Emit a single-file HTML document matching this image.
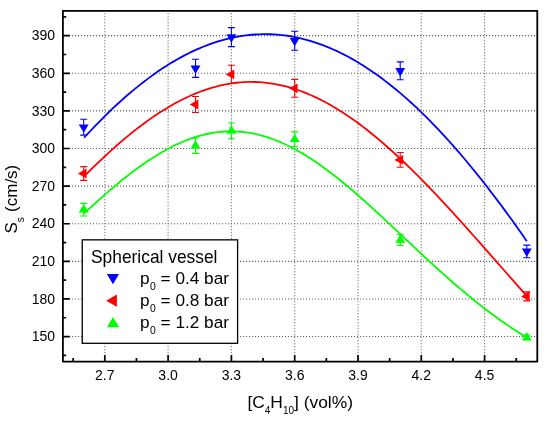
<!DOCTYPE html>
<html><head><meta charset="utf-8"><style>
html,body{margin:0;padding:0;background:#fff;}
body{width:550px;height:421px;overflow:hidden;}
svg{display:block;}
text{font-family:"Liberation Sans",Arial,sans-serif;fill:#000;}
</style></head><body>
<svg width="550" height="421" viewBox="0 0 550 421">
<rect width="550" height="421" fill="#fff"/>

<path d="M104.80,12 V360 M168.10,12 V360 M231.40,12 V360 M294.70,12 V360 M358.00,12 V360 M421.30,12 V360 M484.60,12 V360" stroke="#606060" stroke-width="1.1" stroke-dasharray="1.1 1.9" stroke-dashoffset="1.75" fill="none"/>
<path d="M64,336.56 H536 M64,298.95 H536 M64,261.34 H536 M64,223.73 H536 M64,186.12 H536 M64,148.51 H536 M64,110.90 H536 M64,73.28 H536 M64,35.67 H536" stroke="#606060" stroke-width="1.1" stroke-dasharray="1.1 1.9" stroke-dashoffset="1.0" fill="none"/>
<path d="M84.07,137.76 L87.79,133.72 L91.51,129.75 L95.23,125.85 L98.95,122.01 L102.67,118.26 L106.39,114.57 L110.11,110.96 L113.83,107.43 L117.55,103.97 L121.27,100.58 L124.99,97.28 L128.72,94.05 L132.44,90.90 L136.16,87.83 L139.88,84.84 L143.60,81.93 L147.32,79.10 L151.04,76.35 L154.76,73.68 L158.48,71.10 L162.20,68.60 L165.92,66.19 L169.64,63.86 L173.36,61.61 L177.08,59.45 L180.80,57.37 L184.52,55.39 L188.24,53.49 L191.96,51.67 L195.68,49.94 L199.40,48.31 L203.12,46.75 L206.84,45.29 L210.56,43.92 L214.28,42.64 L218.01,41.44 L221.73,40.34 L225.45,39.33 L229.17,38.40 L232.89,37.57 L236.61,36.83 L240.33,36.17 L244.05,35.61 L247.77,35.14 L251.49,34.77 L255.21,34.48 L258.93,34.28 L262.65,34.18 L266.37,34.17 L270.09,34.25 L273.81,34.42 L277.53,34.68 L281.25,35.03 L284.97,35.47 L288.69,36.01 L292.41,36.64 L296.13,37.35 L299.85,38.16 L303.57,39.06 L307.30,40.05 L311.02,41.13 L314.74,42.30 L318.46,43.56 L322.18,44.90 L325.90,46.34 L329.62,47.87 L333.34,49.48 L337.06,51.18 L340.78,52.97 L344.50,54.85 L348.22,56.81 L351.94,58.87 L355.66,61.00 L359.38,63.22 L363.10,65.53 L366.82,67.92 L370.54,70.40 L374.26,72.96 L377.98,75.60 L381.70,78.33 L385.42,81.13 L389.14,84.02 L392.86,86.99 L396.59,90.04 L400.31,93.17 L404.03,96.38 L407.75,99.66 L411.47,103.02 L415.19,106.46 L418.91,109.97 L422.63,113.56 L426.35,117.23 L430.07,120.97 L433.79,124.78 L437.51,128.66 L441.23,132.61 L444.95,136.63 L448.67,140.73 L452.39,144.89 L456.11,149.12 L459.83,153.42 L463.55,157.78 L467.27,162.21 L470.99,166.70 L474.71,171.25 L478.43,175.87 L482.15,180.55 L485.88,185.29 L489.60,190.09 L493.32,194.95 L497.04,199.86 L500.76,204.83 L504.48,209.86 L508.20,214.94 L511.92,220.08 L515.64,225.27 L519.36,230.51 L523.08,235.80 L526.80,241.14" stroke="#0000ff" stroke-width="1.8" fill="none"/>
<path d="M84.07,176.39 L87.79,172.67 L91.51,169.00 L95.23,165.37 L98.95,161.80 L102.67,158.28 L106.39,154.82 L110.11,151.41 L113.83,148.07 L117.55,144.79 L121.27,141.57 L124.99,138.42 L128.72,135.33 L132.44,132.32 L136.16,129.38 L139.88,126.51 L143.60,123.72 L147.32,121.00 L151.04,118.36 L154.76,115.81 L158.48,113.34 L162.20,110.95 L165.92,108.64 L169.64,106.42 L173.36,104.29 L177.08,102.25 L180.80,100.31 L184.52,98.45 L188.24,96.69 L191.96,95.02 L195.68,93.45 L199.40,91.97 L203.12,90.60 L206.84,89.32 L210.56,88.14 L214.28,87.06 L218.01,86.08 L221.73,85.21 L225.45,84.44 L229.17,83.77 L232.89,83.20 L236.61,82.74 L240.33,82.38 L244.05,82.12 L247.77,81.97 L251.49,81.93 L255.21,81.99 L258.93,82.15 L262.65,82.42 L266.37,82.79 L270.09,83.27 L273.81,83.85 L277.53,84.53 L281.25,85.32 L284.97,86.20 L288.69,87.19 L292.41,88.29 L296.13,89.48 L299.85,90.77 L303.57,92.16 L307.30,93.65 L311.02,95.23 L314.74,96.91 L318.46,98.68 L322.18,100.55 L325.90,102.51 L329.62,104.56 L333.34,106.70 L337.06,108.93 L340.78,111.25 L344.50,113.65 L348.22,116.13 L351.94,118.70 L355.66,121.35 L359.38,124.07 L363.10,126.88 L366.82,129.75 L370.54,132.71 L374.26,135.73 L377.98,138.82 L381.70,141.98 L385.42,145.21 L389.14,148.50 L392.86,151.85 L396.59,155.26 L400.31,158.73 L404.03,162.26 L407.75,165.84 L411.47,169.47 L415.19,173.15 L418.91,176.88 L422.63,180.65 L426.35,184.47 L430.07,188.32 L433.79,192.22 L437.51,196.15 L441.23,200.12 L444.95,204.12 L448.67,208.14 L452.39,212.20 L456.11,216.28 L459.83,220.39 L463.55,224.52 L467.27,228.66 L470.99,232.83 L474.71,237.01 L478.43,241.20 L482.15,245.40 L485.88,249.61 L489.60,253.83 L493.32,258.06 L497.04,262.28 L500.76,266.51 L504.48,270.74 L508.20,274.97 L511.92,279.19 L515.64,283.40 L519.36,287.61 L523.08,291.80 L526.80,295.99" stroke="#ff0000" stroke-width="1.8" fill="none"/>
<path d="M84.07,213.38 L87.79,209.96 L91.51,206.57 L95.23,203.20 L98.95,199.87 L102.67,196.58 L106.39,193.33 L110.11,190.12 L113.83,186.96 L117.55,183.86 L121.27,180.81 L124.99,177.82 L128.72,174.90 L132.44,172.04 L136.16,169.26 L139.88,166.55 L143.60,163.91 L147.32,161.36 L151.04,158.90 L154.76,156.52 L158.48,154.23 L162.20,152.04 L165.92,149.94 L169.64,147.94 L173.36,146.05 L177.08,144.26 L180.80,142.58 L184.52,141.01 L188.24,139.55 L191.96,138.21 L195.68,136.98 L199.40,135.87 L203.12,134.88 L206.84,134.00 L210.56,133.25 L214.28,132.63 L218.01,132.12 L221.73,131.75 L225.45,131.49 L229.17,131.37 L232.89,131.36 L236.61,131.49 L240.33,131.73 L244.05,132.11 L247.77,132.61 L251.49,133.23 L255.21,133.97 L258.93,134.84 L262.65,135.83 L266.37,136.93 L270.09,138.16 L273.81,139.50 L277.53,140.95 L281.25,142.52 L284.97,144.20 L288.69,145.98 L292.41,147.87 L296.13,149.86 L299.85,151.95 L303.57,154.14 L307.30,156.43 L311.02,158.80 L314.74,161.27 L318.46,163.81 L322.18,166.44 L325.90,169.15 L329.62,171.93 L333.34,174.79 L337.06,177.71 L340.78,180.69 L344.50,183.74 L348.22,186.84 L351.94,190.00 L355.66,193.20 L359.38,196.45 L363.10,199.74 L366.82,203.07 L370.54,206.44 L374.26,209.83 L377.98,213.25 L381.70,216.70 L385.42,220.16 L389.14,223.64 L392.86,227.13 L396.59,230.63 L400.31,234.13 L404.03,237.64 L407.75,241.15 L411.47,244.65 L415.19,248.14 L418.91,251.62 L422.63,255.09 L426.35,258.54 L430.07,261.97 L433.79,265.38 L437.51,268.77 L441.23,272.12 L444.95,275.45 L448.67,278.74 L452.39,282.01 L456.11,285.23 L459.83,288.41 L463.55,291.56 L467.27,294.66 L470.99,297.72 L474.71,300.74 L478.43,303.70 L482.15,306.62 L485.88,309.49 L489.60,312.31 L493.32,315.08 L497.04,317.80 L500.76,320.46 L504.48,323.07 L508.20,325.62 L511.92,328.13 L515.64,330.57 L519.36,332.96 L523.08,335.29 L526.80,337.57" stroke="#00ff00" stroke-width="1.8" fill="none"/>
<path d="M83.70,119.30 V135.10 M80.20,119.30 H87.20 M80.20,135.10 H87.20" stroke="#0000ff" stroke-width="1.1" fill="none"/>
<polygon points="78.75,124.40 88.65,124.40 83.70,132.80" fill="#0000ff"/>
<path d="M195.53,59.30 V77.40 M192.03,59.30 H199.03 M192.03,77.40 H199.03" stroke="#0000ff" stroke-width="1.1" fill="none"/>
<polygon points="190.58,65.55 200.48,65.55 195.53,73.95" fill="#0000ff"/>
<path d="M231.40,27.60 V46.60 M227.90,27.60 H234.90 M227.90,46.60 H234.90" stroke="#0000ff" stroke-width="1.1" fill="none"/>
<polygon points="226.45,34.30 236.35,34.30 231.40,42.70" fill="#0000ff"/>
<path d="M294.70,31.20 V50.20 M291.20,31.20 H298.20 M291.20,50.20 H298.20" stroke="#0000ff" stroke-width="1.1" fill="none"/>
<polygon points="289.75,37.90 299.65,37.90 294.70,46.30" fill="#0000ff"/>
<path d="M400.20,61.90 V79.70 M396.70,61.90 H403.70 M396.70,79.70 H403.70" stroke="#0000ff" stroke-width="1.1" fill="none"/>
<polygon points="395.25,68.00 405.15,68.00 400.20,76.40" fill="#0000ff"/>
<path d="M526.80,245.10 V257.70 M523.30,245.10 H530.30 M523.30,257.70 H530.30" stroke="#0000ff" stroke-width="1.1" fill="none"/>
<polygon points="521.85,248.60 531.75,248.60 526.80,257.00" fill="#0000ff"/>
<path d="M83.70,166.60 V180.40 M80.20,166.60 H87.20 M80.20,180.40 H87.20" stroke="#ff0000" stroke-width="1.1" fill="none"/>
<polygon points="77.97,173.50 86.57,168.60 86.57,178.40" fill="#ff0000"/>
<path d="M195.53,96.50 V112.50 M192.03,96.50 H199.03 M192.03,112.50 H199.03" stroke="#ff0000" stroke-width="1.1" fill="none"/>
<polygon points="189.80,104.50 198.40,99.60 198.40,109.40" fill="#ff0000"/>
<path d="M231.40,65.30 V83.50 M227.90,65.30 H234.90 M227.90,83.50 H234.90" stroke="#ff0000" stroke-width="1.1" fill="none"/>
<polygon points="225.67,74.40 234.27,69.50 234.27,79.30" fill="#ff0000"/>
<path d="M294.70,79.40 V97.20 M291.20,79.40 H298.20 M291.20,97.20 H298.20" stroke="#ff0000" stroke-width="1.1" fill="none"/>
<polygon points="288.97,88.30 297.57,83.40 297.57,93.20" fill="#ff0000"/>
<path d="M400.20,152.50 V167.30 M396.70,152.50 H403.70 M396.70,167.30 H403.70" stroke="#ff0000" stroke-width="1.1" fill="none"/>
<polygon points="394.47,159.90 403.07,155.00 403.07,164.80" fill="#ff0000"/>
<path d="M526.80,291.90 V300.90 M523.30,291.90 H530.30 M523.30,300.90 H530.30" stroke="#ff0000" stroke-width="1.1" fill="none"/>
<polygon points="521.07,296.40 529.67,291.50 529.67,301.30" fill="#ff0000"/>
<path d="M83.70,203.40 V216.00 M80.20,203.40 H87.20 M80.20,216.00 H87.20" stroke="#00ff00" stroke-width="1.1" fill="none"/>
<polygon points="78.75,212.50 88.65,212.50 83.70,204.10" fill="#00ff00"/>
<path d="M195.53,138.00 V153.40 M192.03,138.00 H199.03 M192.03,153.40 H199.03" stroke="#00ff00" stroke-width="1.1" fill="none"/>
<polygon points="190.58,148.50 200.48,148.50 195.53,140.10" fill="#00ff00"/>
<path d="M231.40,123.05 V138.75 M227.90,123.05 H234.90 M227.90,138.75 H234.90" stroke="#00ff00" stroke-width="1.1" fill="none"/>
<polygon points="226.45,133.70 236.35,133.70 231.40,125.30" fill="#00ff00"/>
<path d="M294.70,131.85 V146.75 M291.20,131.85 H298.20 M291.20,146.75 H298.20" stroke="#00ff00" stroke-width="1.1" fill="none"/>
<polygon points="289.75,142.10 299.65,142.10 294.70,133.70" fill="#00ff00"/>
<path d="M400.20,234.55 V245.45 M396.70,234.55 H403.70 M396.70,245.45 H403.70" stroke="#00ff00" stroke-width="1.1" fill="none"/>
<polygon points="395.25,242.80 405.15,242.80 400.20,234.40" fill="#00ff00"/>
<path d="M526.80,335.00 V340.00 M523.30,335.00 H530.30 M523.30,340.00 H530.30" stroke="#00ff00" stroke-width="1.1" fill="none"/>
<polygon points="521.85,340.30 531.75,340.30 526.80,331.90" fill="#00ff00"/>
<rect x="62.9" y="10.95" width="474.4" height="350.65" fill="none" stroke="#000" stroke-width="1.8" stroke-linejoin="round"/>
<path d="M62,336.56 H69.8 M62,298.95 H69.8 M62,261.34 H69.8 M62,223.73 H69.8 M62,186.12 H69.8 M62,148.51 H69.8 M62,110.90 H69.8 M62,73.28 H69.8 M62,35.67 H69.8 M62,355.37 H66.2 M62,317.76 H66.2 M62,280.15 H66.2 M62,242.53 H66.2 M62,204.92 H66.2 M62,167.31 H66.2 M62,129.70 H66.2 M62,92.09 H66.2 M62,54.48 H66.2 M62,16.87 H66.2 M104.80,362 V355 M168.10,362 V355 M231.40,362 V355 M294.70,362 V355 M358.00,362 V355 M421.30,362 V355 M484.60,362 V355 M73.15,362 V358 M136.45,362 V358 M199.75,362 V358 M263.05,362 V358 M326.35,362 V358 M389.65,362 V358 M452.95,362 V358 M516.25,362 V358" stroke="#000" stroke-width="1.7" fill="none"/>
<text x="55" y="341.16" font-size="14" text-anchor="end">150</text>
<text x="55" y="303.55" font-size="14" text-anchor="end">180</text>
<text x="55" y="265.94" font-size="14" text-anchor="end">210</text>
<text x="55" y="228.33" font-size="14" text-anchor="end">240</text>
<text x="55" y="190.72" font-size="14" text-anchor="end">270</text>
<text x="55" y="153.11" font-size="14" text-anchor="end">300</text>
<text x="55" y="115.50" font-size="14" text-anchor="end">330</text>
<text x="55" y="77.88" font-size="14" text-anchor="end">360</text>
<text x="55" y="40.27" font-size="14" text-anchor="end">390</text>
<text x="104.80" y="380.3" font-size="14" text-anchor="middle">2.7</text>
<text x="168.10" y="380.3" font-size="14" text-anchor="middle">3.0</text>
<text x="231.40" y="380.3" font-size="14" text-anchor="middle">3.3</text>
<text x="294.70" y="380.3" font-size="14" text-anchor="middle">3.6</text>
<text x="358.00" y="380.3" font-size="14" text-anchor="middle">3.9</text>
<text x="421.30" y="380.3" font-size="14" text-anchor="middle">4.2</text>
<text x="484.60" y="380.3" font-size="14" text-anchor="middle">4.5</text>
<text transform="translate(16.8,233.6) rotate(-90)" font-size="17">S<tspan font-size="10" dx="-0.1" dy="7.5">s</tspan><tspan dx="0.7" dy="-7.5"> (cm/s)</tspan></text>
<text x="247.4" y="407.9" font-size="17.4">[C<tspan font-size="10" dy="6.5">4</tspan><tspan dy="-6.5">H</tspan><tspan font-size="10" dy="6.5">10</tspan><tspan dy="-6.5">] (vol%)</tspan></text>
<rect x="82.25" y="239.85" width="155.35" height="103.45" fill="#fff" stroke="#000" stroke-width="1.3"/>
<text transform="translate(91.0,262.7) scale(0.955,1)" font-size="18.2">Spherical vessel</text>
<polygon points="106.86,273.96 119.04,273.96 112.95,284.29" fill="#0000ff"/>
<polygon points="106.19,300.65 116.85,294.57 116.85,306.73" fill="#ff0000"/>
<polygon points="106.96,327.24 119.14,327.24 113.05,316.91" fill="#00ff00"/>
<text x="140" y="283.5" font-size="17.2">p<tspan font-size="10.4" dx="0.5" dy="6.3">0</tspan><tspan dy="-6.3"> = 0.4 bar</tspan></text>
<text x="140" y="305.5" font-size="17.2">p<tspan font-size="10.4" dx="0.5" dy="6.3">0</tspan><tspan dy="-6.3"> = 0.8 bar</tspan></text>
<text x="140" y="327.5" font-size="17.2">p<tspan font-size="10.4" dx="0.5" dy="6.3">0</tspan><tspan dy="-6.3"> = 1.2 bar</tspan></text>
</svg>
</body></html>
